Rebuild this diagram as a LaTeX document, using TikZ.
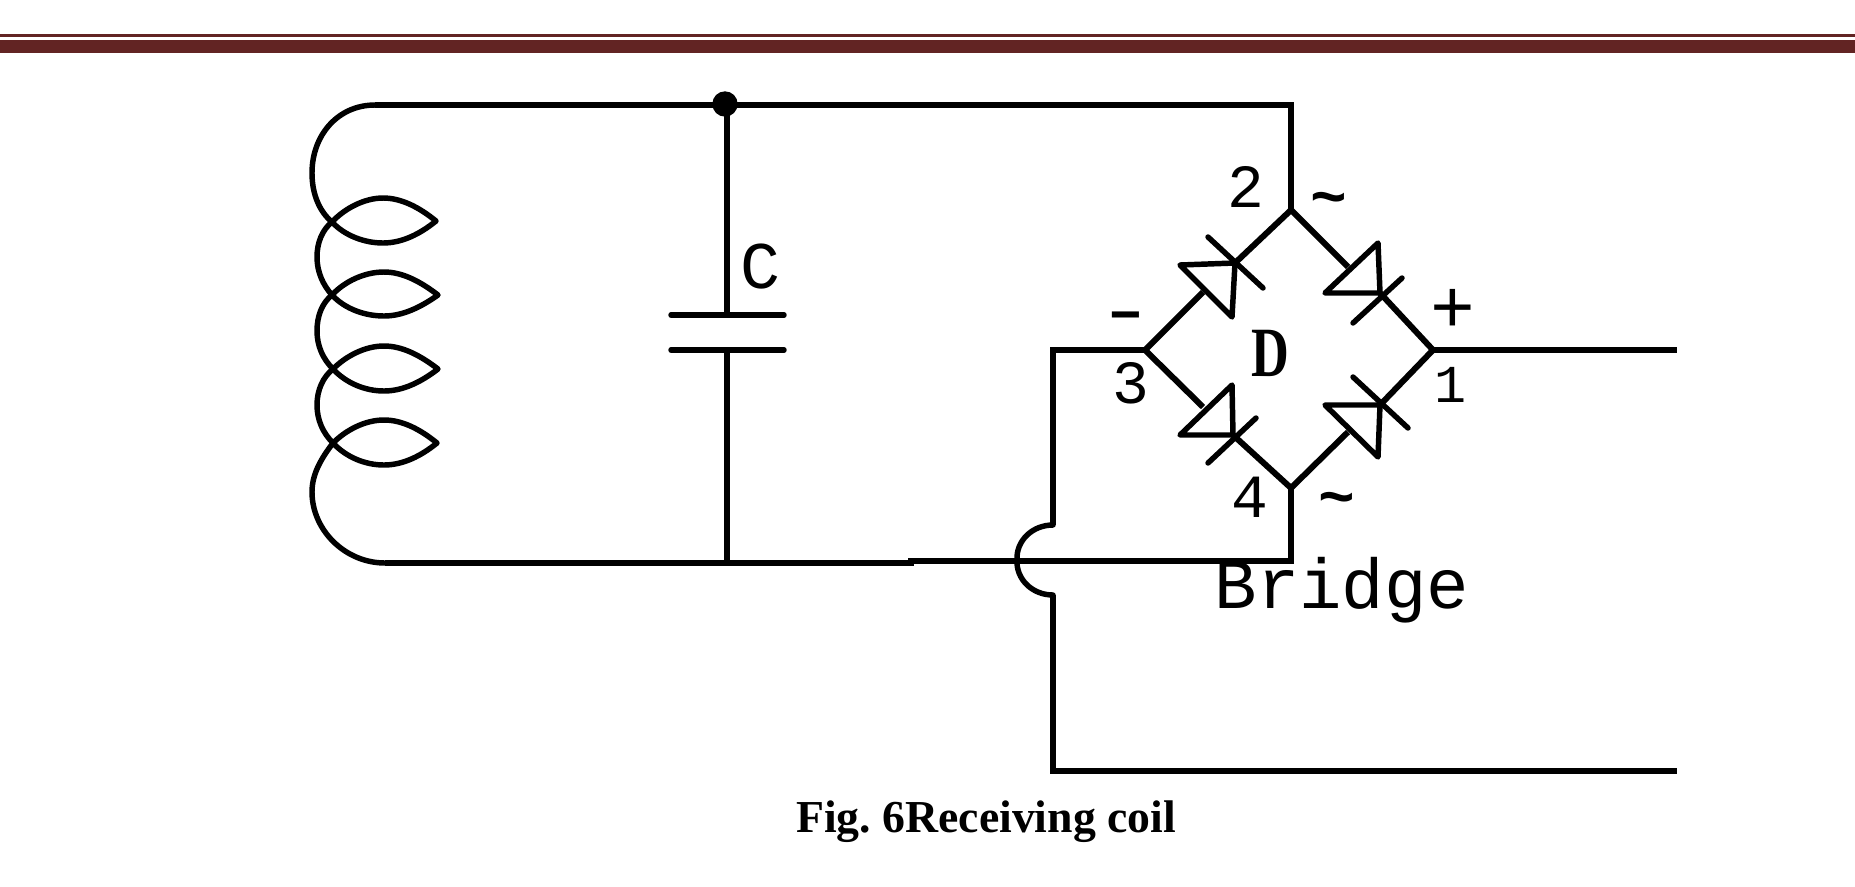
\documentclass[tikz,border=0pt]{standalone}
\usepackage{fontspec}
\setmainfont{Liberation Serif}
\setmonofont{Liberation Mono}
\definecolor{bandred}{RGB}{98,36,35}
\tikzset{every picture/.style={line width=0.75pt}}
\tikzset{wire/.style={line width=4.5pt,line join=miter}}
\tikzset{thinwire/.style={line width=4.1pt,line join=round,line cap=round}}
\tikzset{cadtext/.style={inner sep=0pt,font=\ttfamily\fontsize{46}{46}\selectfont}}
\begin{document}
\frenchspacing
\begin{tikzpicture}[x=0.75pt,y=0.75pt,yscale=-1,xscale=1]
\path[use as bounding box] (0,0) rectangle (1855,886);

%Top band
\fill [bandred] (0,34) rectangle (1855,37);
\fill [bandred] (0,40) rectangle (1855,53);

%Points of the circuit
\coordinate (coilT) at (375,105);
\coordinate (coilB) at (385,563);
\coordinate (capT) at (727,105);
\coordinate (capB) at (727,563);
\coordinate (capU) at (727,315);
\coordinate (capL) at (727,350);
\coordinate (stepL) at (911,563);
\coordinate (stepR) at (911,561);
\coordinate (cornerT) at (1291,105);
\coordinate (cornerB) at (1291,561);
\coordinate (brT) at (1291,210);
\coordinate (brL) at (1145,350);
\coordinate (brR) at (1433,350);
\coordinate (brB) at (1291,488);
\coordinate (outP) at (1677,350);
\coordinate (outN) at (1677,771);
\coordinate (retA) at (1053,350);
\coordinate (hopT) at (1053,525);
\coordinate (hopB) at (1053,595);
\coordinate (retB) at (1053,771);

%Wires
\draw [wire] (coilT) -- (cornerT) -- (brT);
\draw [wire] (coilB) -- (stepL) -- (stepR) -- (cornerB) -- (brB);
\draw [wire] (capT) -- (capU);
\draw [wire] (capL) -- (capB);
\draw [wire] (brR) -- (outP);
\draw [wire] (brL) -- (retA) -- (hopT);
\draw [wire] (hopB) -- (retB) -- (outN);
\draw [thinwire] (hopT) .. controls (1032,525) and (1016,541) .. (1017,560) .. controls (1016,579) and (1032,595) .. (hopB);

%Junction
\node [circle,fill=black,inner sep=0pt,minimum size=19pt] (dotT) at (725,104) {};

%Capacitor plates
\draw [thinwire] (671,315) -- (784,315);
\draw [thinwire] (671,350) -- (784,350);

%Coil
\draw [thinwire] (coilT) .. controls (338,105) and (312,135) .. (312,173) .. controls (312,195) and (320,212) .. (332,222)
 .. controls (345,236) and (365,243) .. (383,243) .. controls (402,243) and (420,234) .. (436,221)
 .. controls (420,208) and (402,198) .. (383,198) .. controls (365,198) and (345,208) .. (332,222)
 .. controls (322,230) and (317,243) .. (317,257) .. controls (317,272) and (323,285) .. (332,295)
 .. controls (345,309) and (365,316) .. (384,316) .. controls (403,316) and (421,307) .. (438,295)
 .. controls (421,282) and (403,272) .. (384,272) .. controls (365,272) and (345,281) .. (332,295)
 .. controls (322,303) and (317,316) .. (317,331) .. controls (317,346) and (323,359) .. (333,369)
 .. controls (346,383) and (365,391) .. (384,391) .. controls (403,391) and (421,382) .. (438,369)
 .. controls (421,356) and (403,346) .. (384,346) .. controls (365,346) and (346,356) .. (333,369)
 .. controls (323,377) and (317,390) .. (317,405) .. controls (317,420) and (323,433) .. (333,443)
 .. controls (346,457) and (365,465) .. (384,465) .. controls (403,465) and (421,456) .. (437,443)
 .. controls (421,430) and (403,420) .. (384,420) .. controls (365,420) and (346,430) .. (333,443)
 .. controls (320,460) and (312,475) .. (312,492) .. controls (312,530) and (345,563) .. (coilB);

%Diode upper left
\coordinate (dUL) at (1235,263);
\coordinate (aUL) at (1203,292);
\draw [wire] (brT) -- (dUL);
\draw [wire] (brL) -- (aUL);
\draw [thinwire] (dUL) -- (1180,265) -- (1232,317) -- cycle;
\draw [thinwire] (1208,237) -- (1263,288);
%Diode upper right
\coordinate (dUR) at (1380,293);
\coordinate (aUR) at (1348,267);
\draw [wire] (brT) -- (aUR);
\draw [wire] (brR) -- (dUR);
\draw [thinwire] (dUR) -- (1325,293) -- (1378,243) -- cycle;
\draw [thinwire] (1353,323) -- (1402,278);
%Diode lower left
\coordinate (dLL) at (1233,435);
\coordinate (aLL) at (1203,407);
\draw [wire] (brL) -- (aLL);
\draw [wire] (brB) -- (dLL);
\draw [thinwire] (dLL) -- (1180,435) -- (1232,385) -- cycle;
\draw [thinwire] (1208,463) -- (1256,418);
%Diode lower right
\coordinate (dLR) at (1380,405);
\coordinate (aLR) at (1348,432);
\draw [wire] (brB) -- (aLR);
\draw [wire] (brR) -- (dLR);
\draw [thinwire] (dLR) -- (1325,405) -- (1378,457) -- cycle;
\draw [thinwire] (1353,377) -- (1408,428);

% Text Node
\node [cadtext,font=\ttfamily\fontsize{50}{50}\selectfont] (lblC) at (760,267) {C};
% Text Node
\node [cadtext,font=\rmfamily\bfseries\fontsize{53}{53}\selectfont] (lblD) at (1270,353) {\scalebox{0.74}[1]{D}};
% Text Node
\node [cadtext] (lbl2) at (1246,187) {2};
% Text Node
\node [cadtext] (lbl3) at (1131,383) {3};
% Text Node
\node [cadtext] (lbl4) at (1250,497) {4};
% Text Node
\node [cadtext,font=\ttfamily\fontsize{40}{40}\selectfont] (lbl1) at (1450,385) {1};
% Text Node
\node [cadtext,font=\ttfamily\bfseries\fontsize{46}{46}\selectfont] (lblTT) at (1329,205) {\textasciitilde};
% Text Node
\node [cadtext,font=\ttfamily\bfseries\fontsize{46}{46}\selectfont] (lblTB) at (1337,505) {\textasciitilde};
% Text Node
\node [cadtext,font=\ttfamily\fontsize{56}{56}\selectfont] (lblP) at (1453,311) {+};
% Text Node
\node [cadtext,font=\ttfamily\bfseries\fontsize{46}{46}\selectfont] (lblM) at (1126,321) {–};
% Text Node
\node [cadtext,font=\ttfamily\fontsize{53}{53}\selectfont] (lblBr) at (1342,590) {Bridge};
% Text Node
\node [inner sep=0pt,font=\bfseries\fontsize{34.3}{34.3}\selectfont] (caption) at (986,822) {Fig. 6Receiving coil};

\end{tikzpicture}
\end{document}
